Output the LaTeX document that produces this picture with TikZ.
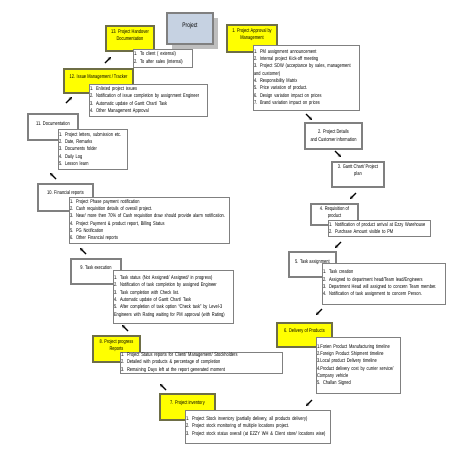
\documentclass[tikz,border=0pt]{standalone}
\usepackage{fontspec}
\setmainfont{Liberation Sans}[FakeStretch=0.74]
\usetikzlibrary{arrows.meta}
\definecolor{boxgray}{RGB}{128,128,128}
\definecolor{yel}{RGB}{255,255,0}
\definecolor{ybord}{RGB}{110,110,70}
\definecolor{pblue}{RGB}{198,210,226}
\definecolor{shad}{RGB}{190,190,190}
\newcommand{\dfont}{\fontsize{5.4}{7.3}\selectfont}
\begin{document}
\begin{tikzpicture}[x=1pt,y=-1pt,
  mainbox/.style={draw=boxgray, line width=1.8pt, fill=white, inner sep=0pt},
  ybox/.style={mainbox, fill=yel, draw=ybord},
  lbl/.style={align=center, inner sep=0pt, font=\dfont},
  det/.style={draw=boxgray, line width=0.6pt, fill=white, inner xsep=1pt, inner ysep=0pt, align=left, font=\dfont},
  arr/.style={-{Stealth[length=3.2pt,width=3.4pt]}, line width=1.1pt}]
\fill[white] (0,0) rectangle (453,453);
\useasboundingbox (0,0) rectangle (453,453);
% Project
\node[fill=shad, minimum width=46pt, minimum height=31pt, inner sep=0pt] (pshadow) at (194.5,33) {};
\node[mainbox, fill=pblue, minimum width=46pt, minimum height=31pt] (proj) at (190,28.5) {};
\node[lbl, font=\fontsize{6.6}{7.3}\selectfont] (tproj) at (190,25.5) {Project};
% main boxes
\node[ybox, minimum width=48pt, minimum height=25pt] (n13) at (130,38.5) {};
\node[lbl] (t13) at (130,35) {13. Project Handover\\Documentation};
\node[ybox, minimum width=50pt, minimum height=27pt] (n1) at (252,38.5) {};
\node[lbl] (t1) at (252,34.5) {1. Project Approval by\\Management};
\node[ybox, minimum width=69pt, minimum height=24pt] (n12) at (98.5,81) {};
\node[lbl] (t12) at (98.5,77) {12. Issue Management / Tracker};
\node[mainbox, minimum width=50pt, minimum height=26pt] (n11) at (53,127) {};
\node[lbl] (t11) at (53,124) {11. Documentation};
\node[mainbox, minimum width=55pt, minimum height=27pt] (n10) at (65.5,197.5) {};
\node[lbl] (t10) at (65.5,193) {10. Financial reports};
\node[mainbox, minimum width=50pt, minimum height=25pt] (n9) at (96,271.5) {};
\node[lbl] (t9) at (96,268) {9. Task execution};
\node[ybox, minimum width=47pt, minimum height=26pt] (n8) at (116.5,349) {};
\node[lbl] (t8) at (116.5,345.5) {8. Project progress\\Reports};
\node[ybox, minimum width=55pt, minimum height=26pt] (n7) at (187.5,407) {};
\node[lbl] (t7) at (187.5,403) {7. Project inventory};
\node[ybox, minimum width=55pt, minimum height=24pt] (n6) at (304.5,335) {};
\node[lbl] (t6) at (304.5,331) {6. Delivery of Products};
\node[mainbox, minimum width=47pt, minimum height=25pt] (n5) at (312.5,264.5) {};
\node[lbl] (t5) at (312.5,262) {5. Task assignment};
\node[mainbox, minimum width=47pt, minimum height=21pt] (n4) at (334.5,214.5) {};
\node[lbl] (t4) at (334.5,212.5) {4. Requisition of\\product};
\node[mainbox, minimum width=52pt, minimum height=25pt] (n3) at (358,174.5) {};
\node[lbl] (t3) at (358,170.5) {3. Gantt Chart/ Project\\plan};
\node[mainbox, minimum width=57pt, minimum height=26pt] (n2) at (333.5,136) {};
\node[lbl] (t2) at (333.5,135.5) {2. Project Details\\and Customer information};
% detail boxes
\node[det, text width=57pt, minimum height=18pt] (d13) at (162.5,58) {1. To client ( external)\\2. To after sales (internal)};
\node[det, text width=104pt, minimum height=65pt] (d1) at (306,77.5) {1. PM assignment announcement\\2. Internal project Kick-off meeting\\3. Project SOW (acceptance by sales, management\\and customer)\\4. Responsibility Matrix\\5. Price variation of product.\\6. Design variation impact on prices\\7. Brand variation impact on prices};
\node[det, text width=116pt, minimum height=32pt] (d12) at (148,100) {1. Enlisted project issues\\2. Notification of issue completion by assignment Engineer\\3. Automatic update of Gantt Chart/ Task\\4. Other Management Approval};
\node[det, text width=67pt, minimum height=40pt] (d11) at (92.5,149) {1. Project letters, submission etc.\\2. Date, Remarks\\3. Documents folder\\4. Daily Log\\5. Lesson learn};
\node[det, text width=158pt, minimum height=46pt] (d10) at (149,220) {1. Project Phase payment notification\\2. Cash requisition details of overall project.\\3. Near/ more then 70\% of Cash requisition draw should provide alarm notification.\\4. Project Payment \& product report, Billing Status\\5. PG Notification\\6. Other Financial reports};
\node[det, text width=118pt, minimum height=53pt] (d9) at (173,296.5) {1. Task status (Not Assigned/ Assigned/ in progress)\\2. Notification of task completion by assigned Engineer\\3. Task completion with Check list.\\4. Automatic update of Gantt Chart/ Task\\5. After completion of task option ``Check task'' by Level-3\\Engineers with Rating waiting for PM approval (with Rating)};
\node[det, text width=160pt, minimum height=21pt] (d8) at (201,362.5) {1. Project Status reports for Client/ Management/ Stockholders\\2. Detailed with products \& percentage of completion\\3. Remaining Days left at the report generated moment};
\node[det, text width=143pt, minimum height=33pt] (d7) at (257.5,426.5) {1. Project Stock inventory (partially delivery, all products delivery)\\2. Project stock monitoring of multiple locations project.\\3. Project stock status overall (at EZZY WH \& Client store/ locations wise)};
\node[det, text width=82pt, minimum height=56pt] (d6) at (358,365) {1.Forien Product Manufacturing timeline\\2.Foreign Product Shipment timeline\\3.Local product Delivery timeline\\4.Product delivery cost by currier service/\\Company vehicle\\5. Challan Signed};
\node[det, text width=121pt, minimum height=41pt] (d5) at (383.5,283.5) {1. Task creation\\2. Assigned to department head/Team lead/Engineers\\3. Department Head will assigned to concern Team member.\\4. Notification of task assignment to concern Person.};
\node[det, text width=100pt, minimum height=16pt] (d4) at (379,228) {1. Notification of product arrival at Ezzy Warehouse\\2. Purchase Amount visible to PM};
% arrows
\coordinate (a1s) at (306,114); \coordinate (a1e) at (312,120);
\coordinate (a2s) at (335,151); \coordinate (a2e) at (341,157);
\coordinate (a3s) at (356,193); \coordinate (a3e) at (350,199);
\coordinate (a4s) at (341,242); \coordinate (a4e) at (335,248);
\coordinate (a5s) at (322,309); \coordinate (a5e) at (316,315);
\coordinate (a6s) at (312,400); \coordinate (a6e) at (306,406);
\coordinate (a7s) at (166,390); \coordinate (a7e) at (160,384);
\coordinate (a8s) at (128,331); \coordinate (a8e) at (122,325);
\coordinate (a9s) at (86,254); \coordinate (a9e) at (80,248);
\coordinate (a10s) at (56,179); \coordinate (a10e) at (50,173);
\coordinate (a11s) at (66,103); \coordinate (a11e) at (72,97);
\coordinate (a12s) at (105,63); \coordinate (a12e) at (111,57);
\foreach \i in {1,...,12} {\draw[arr] (a\i s) -- (a\i e);}
\end{tikzpicture}
\end{document}
